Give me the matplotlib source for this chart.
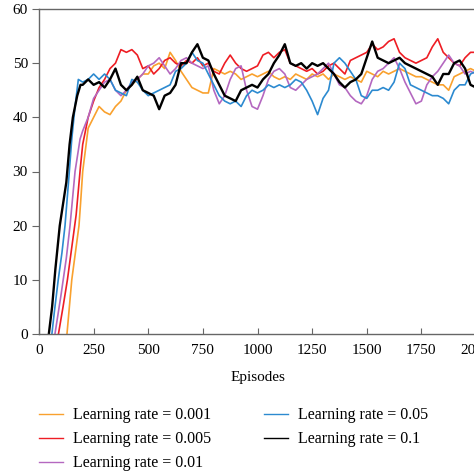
import matplotlib
matplotlib.use("Agg")
import numpy as np
import matplotlib.pyplot as plt

plt.rcParams["font.family"] = ["Liberation Serif", "DejaVu Serif"]

# plateau grid (episodes 200..2000, step 25)
PLATEAU_EP = [200, 225, 250, 275, 300, 325, 350, 375, 400, 425, 450, 475,
              500, 525, 550, 575, 600, 625, 650, 675, 700, 725, 750, 775,
              800, 825, 850, 875, 900, 925, 950, 975, 1000, 1025, 1050, 1075,
              1100, 1125, 1150, 1175, 1200, 1225, 1250, 1275, 1300, 1325, 1350, 1375,
              1400, 1425, 1450, 1475, 1500, 1525, 1550, 1575, 1600, 1625, 1650, 1675,
              1700, 1725, 1750, 1775, 1800, 1825, 1850, 1875, 1900, 1925, 1950, 1975,
              2000]

# lr = 0.001 (orange)
lr0001_rise_ep = [128, 150, 183, 190]
lr0001_rise = [0, 10, 20, 24]
lr0001 = [30, 38, 40, 42, 41, 40.5, 42, 43, 45, 46, 47, 48,
          48, 49.5, 50, 49, 52, 50.5, 48.5, 47, 45.5, 45, 44.5, 44.5,
          49, 48.5, 48, 48.5, 48, 47, 47.5, 48, 47.5, 48, 48.5, 47.5,
          47, 47.5, 47, 48, 47.5, 47, 48, 47.5, 48, 47, 48, 47.5,
          47, 47.5, 47, 46.5, 48.5, 48, 47.5, 48.5, 48, 48.5, 49, 48.5,
          48, 47.5, 47.5, 47, 46.5, 46, 46, 45, 47.5, 48, 48.5, 49,
          48.5]

# lr = 0.005 (red)
lr0005_rise_ep = [89, 110, 130, 150, 170, 190]
lr0005_rise = [0, 5, 10, 16, 22, 31]
lr0005 = [35, 40, 43, 45.5, 47, 49, 50, 52.5, 52, 52.5, 51.5, 49,
          49.5, 48, 49, 50.5, 51, 50, 49.5, 50.5, 50, 51, 49.5, 50,
          48.5, 48, 50, 51.5, 50, 49, 48.5, 49, 49.5, 51.5, 52, 51,
          52, 52.5, 50, 49.5, 49, 48.5, 49, 48, 48.5, 49.5, 50, 49,
          48, 50.5, 51, 51.5, 52, 53.5, 52.5, 53, 54, 54.5, 52, 51,
          50.5, 50, 50.5, 51, 53, 54.5, 52, 51, 50, 49.5, 51, 52,
          52]

# lr = 0.01 (purple)
lr001_rise_ep = [73, 100, 125, 142, 165, 188]
lr001_rise = [0, 7, 14, 20, 30, 36]
lr001 = [37.5, 40, 43.5, 45, 46.5, 47, 45, 44, 45, 46.5, 47, 48,
         49.5, 50, 51, 49.5, 48, 49, 50.5, 51, 50, 49.5, 49, 49.5,
         45, 42.5, 44, 47, 49, 49.5, 45, 42, 41.5, 44, 47, 48.5,
         49, 48, 45.5, 45, 46, 47, 47.5, 48, 49, 50, 48, 46,
         45.5, 44, 43, 42.5, 44, 47, 48.5, 49, 50, 51, 49, 46.5,
         44.5, 42.5, 43, 46, 47.5, 48.5, 50, 51.5, 50, 49.5, 48, 48.5,
         48]

# lr = 0.05 (blue)
lr005_rise_ep = [59, 70, 88, 105, 119, 135, 150, 165, 180]
lr005_rise = [0, 4, 10, 15, 20, 28, 36, 42, 47]
lr005 = [46.5, 47, 48, 47, 48, 47, 45, 44.5, 44, 47, 46.5, 45,
         44, 44.5, 45, 45.5, 46, 48.5, 49, 50, 52, 50.5, 50, 48,
         46, 44, 43, 42.5, 43, 42, 44, 45, 44.5, 45, 46, 45.5,
         46, 45.5, 46, 47, 46.5, 45, 43, 40.5, 43.5, 45, 50, 51,
         50, 48.5, 47, 44, 43.5, 45, 45, 45.5, 45, 46.5, 50, 49,
         46, 45.5, 45, 44.5, 44, 44, 43.5, 42.5, 45, 46, 46, 48,
         48.5]

# lr = 0.1 (black)
lr01_rise_ep = [45, 60, 75, 95, 110, 125, 140, 155, 165, 175, 190]
lr01_rise = [0, 5, 12, 20, 24, 28, 35, 40, 42, 44, 46]
lr01 = [46, 47, 46, 46.5, 45.5, 47, 49, 46, 45, 46, 47.5, 45,
        44.5, 44, 41.5, 44, 44.5, 46, 50, 50, 52, 53.5, 51, 50.5,
        48, 46, 44, 43.5, 43, 45, 45.5, 46, 45.5, 47, 48, 50,
        51.5, 53.5, 50, 49.5, 50, 49, 50, 49.5, 50, 49, 48, 46.5,
        45.5, 46.5, 47, 48, 51, 54, 51, 50.5, 50, 50.5, 51, 50,
        49.5, 49, 48.5, 48, 47.5, 46, 48, 48, 50, 50.5, 49, 46,
        45.5]

LABELS = ["Learning rate = 0.001", "Learning rate = 0.005", "Learning rate = 0.01",
          "Learning rate = 0.05", "Learning rate = 0.1"]
COLORS = ["#f9a12e", "#ee1d24", "#b468c0", "#2c8ad0", "#000000"]
WIDTHS = [1.2, 1.2, 1.2, 1.2, 1.7]


def main():
    series = [
        (lr0001_rise_ep, lr0001_rise, lr0001),
        (lr0005_rise_ep, lr0005_rise, lr0005),
        (lr001_rise_ep, lr001_rise, lr001),
        (lr005_rise_ep, lr005_rise, lr005),
        (lr01_rise_ep, lr01_rise, lr01),
    ]

    fig = plt.figure(figsize=(4.74, 4.74), dpi=100)
    W, H = 474.0, 474.0
    ax = fig.add_axes([39 / W, (H - 334) / H, (476 - 39) / W, 325 / H])

    for (rep, rv, pv), lab, col, lw in zip(series, LABELS, COLORS, WIDTHS):
        ep = list(rep) + PLATEAU_EP
        vals = list(rv) + list(pv)
        ax.plot(ep, vals, color=col, lw=lw, label=lab)

    ax.set_xlim(0, 2000)
    ax.set_ylim(0, 60)
    ax.set_xticks([0, 250, 500, 750, 1000, 1250, 1500, 1750, 2000])
    ax.set_yticks([0, 10, 20, 30, 40, 50, 60])

    for s in ax.spines.values():
        s.set_color("#666666")
        s.set_linewidth(1.0)

    ax.tick_params(axis="x", direction="in", length=4, color="#666666",
                   labelsize=11, pad=7)
    ax.tick_params(axis="y", direction="out", length=5, color="#666666",
                   labelsize=11, pad=3)
    ax.set_xlabel("Episodes", fontsize=11, labelpad=10)

    handles, labels = ax.get_legend_handles_labels()
    leg = fig.legend(handles, labels, ncol=2, loc="upper left",
                     bbox_to_anchor=(25 / W, (H - 393) / H),
                     frameon=False, fontsize=11.5, handlelength=1.5,
                     handletextpad=0.63, columnspacing=3.3, labelspacing=0.5)
    for line in leg.get_lines():
        line.set_linewidth(1.0)

    fig.savefig("out.png", dpi=100)


if __name__ == "__main__":
    main()
